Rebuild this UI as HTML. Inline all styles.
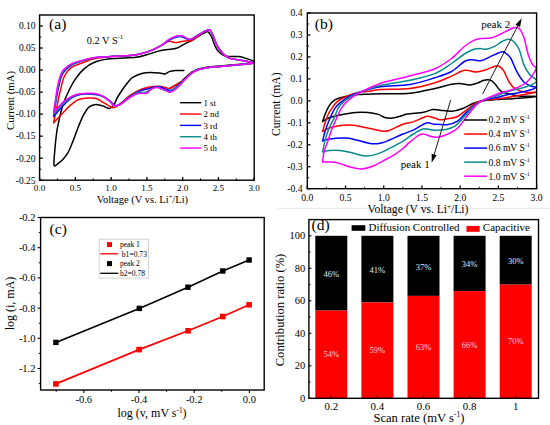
<!DOCTYPE html>
<html><head><meta charset="utf-8"><style>
html,body{margin:0;padding:0;background:#fff;}
svg{display:block;}
text{font-family:"Liberation Serif",serif;}
</style></head><body>
<svg width="550" height="425" viewBox="0 0 550 425">
<rect width="550" height="425" fill="#fff"/>
<line x1="278.00" y1="208.30" x2="550.00" y2="208.30" stroke="#e6e6e6" stroke-width="1.00"/>
<line x1="39.60" y1="180.20" x2="39.60" y2="177.00" stroke="#000" stroke-width="1.30"/>
<text x="39.6" y="190.8" font-size="9.20" text-anchor="middle" fill="#000" >0.0</text>
<line x1="57.48" y1="180.20" x2="57.48" y2="178.40" stroke="#000" stroke-width="1.00"/>
<line x1="75.37" y1="180.20" x2="75.37" y2="177.00" stroke="#000" stroke-width="1.30"/>
<text x="75.4" y="190.8" font-size="9.20" text-anchor="middle" fill="#000" >0.5</text>
<line x1="93.25" y1="180.20" x2="93.25" y2="178.40" stroke="#000" stroke-width="1.00"/>
<line x1="111.13" y1="180.20" x2="111.13" y2="177.00" stroke="#000" stroke-width="1.30"/>
<text x="111.1" y="190.8" font-size="9.20" text-anchor="middle" fill="#000" >1.0</text>
<line x1="129.02" y1="180.20" x2="129.02" y2="178.40" stroke="#000" stroke-width="1.00"/>
<line x1="146.90" y1="180.20" x2="146.90" y2="177.00" stroke="#000" stroke-width="1.30"/>
<text x="146.9" y="190.8" font-size="9.20" text-anchor="middle" fill="#000" >1.5</text>
<line x1="164.78" y1="180.20" x2="164.78" y2="178.40" stroke="#000" stroke-width="1.00"/>
<line x1="182.67" y1="180.20" x2="182.67" y2="177.00" stroke="#000" stroke-width="1.30"/>
<text x="182.7" y="190.8" font-size="9.20" text-anchor="middle" fill="#000" >2.0</text>
<line x1="200.55" y1="180.20" x2="200.55" y2="178.40" stroke="#000" stroke-width="1.00"/>
<line x1="218.43" y1="180.20" x2="218.43" y2="177.00" stroke="#000" stroke-width="1.30"/>
<text x="218.4" y="190.8" font-size="9.20" text-anchor="middle" fill="#000" >2.5</text>
<line x1="236.32" y1="180.20" x2="236.32" y2="178.40" stroke="#000" stroke-width="1.00"/>
<line x1="254.20" y1="180.20" x2="254.20" y2="177.00" stroke="#000" stroke-width="1.30"/>
<text x="254.2" y="190.8" font-size="9.20" text-anchor="middle" fill="#000" >3.0</text>
<line x1="39.60" y1="26.01" x2="42.80" y2="26.01" stroke="#000" stroke-width="1.30"/>
<text x="35.6" y="29.3" font-size="9.50" text-anchor="end" fill="#000" >0.10</text>
<line x1="39.60" y1="48.04" x2="42.80" y2="48.04" stroke="#000" stroke-width="1.30"/>
<text x="35.6" y="51.3" font-size="9.50" text-anchor="end" fill="#000" >0.05</text>
<line x1="39.60" y1="70.07" x2="42.80" y2="70.07" stroke="#000" stroke-width="1.30"/>
<text x="35.6" y="73.4" font-size="9.50" text-anchor="end" fill="#000" >0.00</text>
<line x1="39.60" y1="92.09" x2="42.80" y2="92.09" stroke="#000" stroke-width="1.30"/>
<text x="35.6" y="95.4" font-size="9.50" text-anchor="end" fill="#000" >-0.05</text>
<line x1="39.60" y1="114.12" x2="42.80" y2="114.12" stroke="#000" stroke-width="1.30"/>
<text x="35.6" y="117.4" font-size="9.50" text-anchor="end" fill="#000" >-0.10</text>
<line x1="39.60" y1="136.15" x2="42.80" y2="136.15" stroke="#000" stroke-width="1.30"/>
<text x="35.6" y="139.4" font-size="9.50" text-anchor="end" fill="#000" >-0.15</text>
<line x1="39.60" y1="158.17" x2="42.80" y2="158.17" stroke="#000" stroke-width="1.30"/>
<text x="35.6" y="161.5" font-size="9.50" text-anchor="end" fill="#000" >-0.20</text>
<line x1="39.60" y1="180.20" x2="42.80" y2="180.20" stroke="#000" stroke-width="1.30"/>
<text x="35.6" y="183.5" font-size="9.50" text-anchor="end" fill="#000" >-0.25</text>
<line x1="39.60" y1="37.03" x2="41.40" y2="37.03" stroke="#000" stroke-width="1.00"/>
<line x1="39.60" y1="59.05" x2="41.40" y2="59.05" stroke="#000" stroke-width="1.00"/>
<line x1="39.60" y1="81.08" x2="41.40" y2="81.08" stroke="#000" stroke-width="1.00"/>
<line x1="39.60" y1="103.11" x2="41.40" y2="103.11" stroke="#000" stroke-width="1.00"/>
<line x1="39.60" y1="125.13" x2="41.40" y2="125.13" stroke="#000" stroke-width="1.00"/>
<line x1="39.60" y1="147.16" x2="41.40" y2="147.16" stroke="#000" stroke-width="1.00"/>
<line x1="39.60" y1="169.19" x2="41.40" y2="169.19" stroke="#000" stroke-width="1.00"/>
<text x="142.4" y="202.9" font-size="10.50" text-anchor="middle" fill="#000" >Voltage (V vs. Li<tspan font-size="6.5" dy="-4">+</tspan><tspan dy="4">/Li)</tspan></text>
<text transform="translate(14.0,100.5) rotate(-90)" font-size="10.8" text-anchor="middle">Current (mA)</text>
<text x="49.1" y="28.8" font-size="15.50" text-anchor="start" fill="#000" >(a)</text>
<text x="86.8" y="43.6" font-size="10.30" text-anchor="start" fill="#000" >0.2 V S<tspan font-size="6.5" dy="-4.3">-1</tspan></text>
<path d="M183.9 70.4 C182.5 70.4 177.9 70.4 175.5 70.6 C173.1 70.8 171.0 71.0 169.3 71.6 C167.6 72.1 166.5 73.6 165.1 73.9 C163.7 74.2 163.3 73.4 160.9 73.2 C158.5 73.0 153.7 72.5 150.5 72.5 C147.3 72.5 144.8 72.7 141.8 73.5 C138.8 74.3 134.7 76.2 132.7 77.3 C130.7 78.4 131.3 78.3 129.9 80.0 C128.5 81.7 126.0 84.6 124.1 87.3 C122.2 90.0 119.8 93.6 118.3 96.0 C116.8 98.4 116.1 100.3 115.4 101.8 C114.7 103.2 114.9 103.6 113.9 104.7 C112.9 105.8 111.2 108.2 109.5 108.4 C107.8 108.7 105.9 106.9 103.7 106.2 C101.5 105.5 98.4 104.5 96.4 104.4 C94.5 104.3 93.4 104.9 92.0 105.5 C90.6 106.1 89.3 106.4 87.8 108.2 C86.3 110.0 84.4 113.1 82.8 116.4 C81.2 119.7 79.5 123.9 77.9 128.0 C76.3 132.1 74.7 137.0 73.0 141.1 C71.3 145.2 69.7 149.6 68.0 152.6 C66.3 155.6 64.7 157.4 63.1 159.2 C61.5 161.0 59.7 162.3 58.2 163.3 C56.7 164.3 54.5 167.4 54.0 165.1 C53.5 162.8 54.5 154.7 54.9 149.3 C55.3 144.0 56.0 137.6 56.6 133.0 C57.2 128.4 58.0 125.2 58.8 121.5 C59.6 117.8 60.3 114.0 61.3 110.5 C62.2 107.0 63.3 103.7 64.5 100.5 C65.7 97.3 66.8 95.0 68.5 91.5 C70.2 88.0 72.5 83.4 75.0 79.7 C77.5 76.0 80.5 72.0 83.8 69.1 C87.1 66.1 90.6 63.7 95.0 62.0 C99.4 60.3 103.2 59.6 110.0 58.8 C116.8 58.0 129.8 58.0 136.0 57.3 C142.2 56.6 143.2 55.6 147.3 54.5 C151.5 53.4 156.2 51.5 160.9 50.5 C165.6 49.5 171.7 49.5 175.5 48.5 C179.3 47.5 181.1 45.7 183.9 44.3 C186.7 42.9 190.0 41.4 192.3 40.1 C194.7 38.8 196.0 37.7 198.0 36.5 C200.0 35.3 202.5 33.9 204.1 33.1 C205.7 32.3 206.3 30.9 207.5 31.5 C208.7 32.1 210.2 34.2 211.4 36.5 C212.6 38.8 213.5 42.6 214.6 45.0 C215.7 47.4 216.4 49.1 217.9 50.8 C219.4 52.5 221.4 54.4 223.4 55.4 C225.4 56.4 227.4 56.3 229.9 56.5 C232.4 56.7 236.1 56.3 238.6 56.6 C241.1 56.9 242.6 57.3 245.2 58.1 C247.8 58.9 253.5 60.7 254.2 61.6 C254.9 62.5 251.8 62.9 249.5 63.3 C247.2 63.7 243.9 63.9 240.7 64.2 C237.5 64.5 233.9 64.8 230.5 65.1 C227.1 65.4 223.8 65.6 220.4 65.9 C217.0 66.2 213.7 66.3 210.2 66.8 C206.7 67.3 202.2 68.1 199.6 68.8 C197.0 69.5 195.9 70.1 194.5 70.8 C193.1 71.5 192.1 71.9 190.9 72.8 C189.7 73.7 188.5 74.9 187.3 76.0 C186.1 77.1 184.6 78.3 183.6 79.3 C182.6 80.3 183.4 80.5 181.1 82.0 C178.8 83.5 171.8 87.2 170.0 88.2" fill="none" stroke="#000" stroke-width="1.50" stroke-linejoin="round" stroke-linecap="round" />
<path d="M53.6 123.0 C53.9 121.4 54.5 118.4 55.6 113.2 C56.7 108.0 58.5 98.2 60.0 92.0 C61.5 85.8 62.5 80.3 64.4 76.2 C66.3 72.1 68.6 69.6 71.5 67.4 C74.4 65.2 78.1 64.5 82.0 63.0 C85.9 61.5 88.7 59.7 95.0 58.5 C101.3 57.3 114.2 56.5 120.0 56.0 C125.8 55.5 126.7 56.0 130.0 55.6 C133.3 55.2 136.5 54.7 140.0 53.9 C143.5 53.1 147.3 52.0 150.9 50.6 C154.5 49.2 158.9 46.7 161.8 45.2 C164.7 43.7 166.0 41.9 168.4 41.4 C170.8 40.9 173.8 42.5 176.0 42.5 C178.2 42.5 179.5 41.7 181.5 41.4 C183.5 41.1 186.2 41.0 188.0 40.8 C189.8 40.6 190.5 41.3 192.4 40.3 C194.3 39.3 197.5 36.6 199.7 35.0 C201.9 33.4 203.8 31.7 205.5 30.9 C207.2 30.1 208.6 29.3 209.9 30.2 C211.2 31.1 212.0 33.5 213.2 36.0 C214.3 38.5 215.5 42.4 216.8 45.0 C218.1 47.6 219.8 49.7 221.2 51.5 C222.6 53.3 223.9 54.7 225.5 55.9 C227.1 57.1 228.4 57.9 231.0 58.6 C233.6 59.3 237.4 59.6 240.8 60.3 C244.2 60.9 249.5 62.0 251.7 62.5 C253.9 63.0 254.3 62.8 254.2 63.0 C254.1 63.2 253.2 63.3 250.9 63.6 C248.7 63.9 244.1 64.3 240.7 64.6 C237.3 64.9 233.9 65.3 230.5 65.6 C227.1 65.9 223.8 66.1 220.4 66.4 C217.0 66.7 213.7 66.8 210.2 67.3 C206.7 67.8 202.2 68.6 199.6 69.3 C197.0 70.0 195.9 70.7 194.5 71.3 C193.1 71.9 192.1 72.2 190.9 73.0 C189.7 73.8 188.5 75.1 187.3 76.2 C186.1 77.3 184.6 78.5 183.6 79.5 C182.6 80.5 183.4 80.5 181.1 82.0 C178.8 83.5 172.6 87.3 170.0 88.2 C167.4 89.1 167.5 87.8 165.5 87.5 C163.5 87.2 161.2 86.2 158.2 86.2 C155.2 86.2 150.6 86.8 147.3 87.5 C144.0 88.2 141.2 89.2 138.2 90.7 C135.2 92.2 132.1 94.0 129.1 96.2 C126.1 98.4 122.5 102.0 120.0 103.9 C117.5 105.8 115.7 107.2 113.9 107.6 C112.2 108.0 111.4 107.2 109.5 106.2 C107.6 105.2 104.7 103.1 102.3 101.8 C99.9 100.5 98.7 98.7 95.0 98.2 C91.3 97.8 84.2 98.1 80.3 99.1 C76.4 100.1 74.5 102.1 71.5 104.4 C68.5 106.8 65.6 110.1 62.6 113.2 C59.6 116.3 55.1 121.4 53.6 123.0" fill="none" stroke="#ff0000" stroke-width="1.50" stroke-linejoin="round" stroke-linecap="round" />
<path d="M53.6 116.4 C53.9 114.2 54.7 108.1 55.6 103.0 C56.5 97.9 57.6 91.0 58.8 86.0 C60.0 81.0 60.9 76.5 63.0 73.0 C65.1 69.5 68.6 66.9 71.5 65.0 C74.4 63.1 76.4 62.7 80.3 61.5 C84.2 60.3 88.4 58.7 95.0 57.8 C101.6 56.9 114.2 56.4 120.0 56.0 C125.8 55.6 126.7 56.0 130.0 55.6 C133.3 55.2 136.5 54.7 140.0 53.9 C143.5 53.1 147.3 52.0 150.9 50.6 C154.5 49.2 158.9 46.9 161.8 45.2 C164.7 43.5 166.4 41.7 168.4 40.5 C170.4 39.3 171.8 38.6 173.8 38.0 C175.8 37.4 178.6 36.6 180.4 36.6 C182.2 36.6 183.4 37.5 184.7 38.0 C186.0 38.5 186.7 39.4 188.0 39.5 C189.3 39.6 190.4 39.5 192.4 38.6 C194.4 37.7 197.8 35.2 200.0 33.9 C202.2 32.6 203.8 31.5 205.5 30.9 C207.2 30.3 208.6 29.3 209.9 30.2 C211.2 31.1 212.0 33.5 213.2 36.0 C214.3 38.5 215.5 42.4 216.8 45.0 C218.1 47.6 219.8 49.7 221.2 51.5 C222.6 53.3 223.9 54.7 225.5 55.9 C227.1 57.1 228.4 57.9 231.0 58.6 C233.6 59.3 237.4 59.6 240.8 60.3 C244.2 60.9 249.5 62.0 251.7 62.5 C253.9 63.0 254.3 62.8 254.2 63.0 C254.1 63.2 253.2 63.3 250.9 63.6 C248.7 63.9 244.1 64.3 240.7 64.6 C237.3 64.9 233.9 65.3 230.5 65.6 C227.1 65.9 223.8 66.1 220.4 66.4 C217.0 66.7 213.7 66.8 210.2 67.3 C206.7 67.8 202.2 68.6 199.6 69.3 C197.0 70.0 195.9 70.6 194.5 71.3 C193.1 72.0 192.1 72.6 190.9 73.5 C189.7 74.4 188.5 75.7 187.3 76.8 C186.1 77.9 185.2 78.8 183.6 80.2 C182.0 81.7 179.9 83.9 178.0 85.5 C176.1 87.1 173.8 89.3 172.0 90.0 C170.2 90.7 169.6 90.4 167.3 89.8 C165.0 89.2 161.5 86.8 158.2 86.6 C154.9 86.4 150.6 88.1 147.3 88.9 C144.0 89.7 141.2 90.2 138.2 91.6 C135.2 92.9 132.1 94.9 129.1 97.0 C126.1 99.1 122.3 102.9 120.0 104.3 C117.7 105.7 117.2 106.1 115.4 105.5 C113.7 104.9 111.5 102.1 109.5 100.6 C107.5 99.1 106.1 97.7 103.7 96.7 C101.3 95.7 98.9 94.9 95.0 94.5 C91.1 94.1 84.2 93.9 80.3 94.5 C76.4 95.1 74.5 96.0 71.5 98.0 C68.5 100.0 65.6 103.1 62.6 106.2 C59.6 109.3 55.1 114.7 53.6 116.4" fill="none" stroke="#0000ff" stroke-width="1.50" stroke-linejoin="round" stroke-linecap="round" />
<path d="M53.6 114.6 C53.9 112.3 54.8 106.0 55.6 101.0 C56.4 96.0 57.3 89.4 58.5 84.6 C59.7 79.8 60.6 75.4 62.8 72.0 C65.0 68.6 68.6 66.2 71.5 64.4 C74.4 62.6 76.4 62.3 80.3 61.2 C84.2 60.1 88.4 58.6 95.0 57.7 C101.6 56.8 114.2 56.4 120.0 56.0 C125.8 55.6 126.7 56.0 130.0 55.6 C133.3 55.2 136.5 54.7 140.0 53.9 C143.5 53.1 147.3 52.0 150.9 50.6 C154.5 49.2 158.9 46.9 161.8 45.2 C164.7 43.5 166.4 41.4 168.4 40.1 C170.4 38.8 171.8 38.1 173.8 37.4 C175.8 36.7 178.6 36.0 180.4 36.0 C182.2 36.0 183.4 36.9 184.7 37.4 C186.0 37.9 186.7 39.0 188.0 39.2 C189.3 39.4 190.4 39.5 192.4 38.6 C194.4 37.7 197.8 35.2 200.0 33.9 C202.2 32.6 203.8 31.5 205.5 30.9 C207.2 30.3 208.6 29.3 209.9 30.2 C211.2 31.1 212.0 33.5 213.2 36.0 C214.3 38.5 215.5 42.4 216.8 45.0 C218.1 47.6 219.8 49.7 221.2 51.5 C222.6 53.3 223.9 54.7 225.5 55.9 C227.1 57.1 228.4 57.9 231.0 58.6 C233.6 59.3 237.4 59.6 240.8 60.3 C244.2 60.9 249.5 62.0 251.7 62.5 C253.9 63.0 254.3 62.8 254.2 63.0 C254.1 63.2 253.2 63.3 250.9 63.6 C248.7 63.9 244.1 64.3 240.7 64.6 C237.3 64.9 233.9 65.3 230.5 65.6 C227.1 65.9 223.8 66.1 220.4 66.4 C217.0 66.7 213.7 66.8 210.2 67.3 C206.7 67.8 202.2 68.6 199.6 69.3 C197.0 70.0 195.9 70.5 194.5 71.3 C193.1 72.0 192.1 72.8 190.9 73.8 C189.7 74.8 188.5 76.1 187.3 77.2 C186.1 78.3 184.8 79.4 183.6 80.6 C182.4 81.8 182.3 82.7 180.0 84.5 C177.7 86.3 172.8 90.5 170.0 91.3 C167.2 92.1 165.3 90.2 163.0 89.5 C160.7 88.8 158.7 86.8 156.4 87.0 C154.1 87.2 151.0 89.6 149.0 90.5 C147.0 91.4 146.3 92.2 144.5 92.5 C142.7 92.8 140.8 91.7 138.2 92.5 C135.6 93.3 132.1 95.5 129.1 97.5 C126.1 99.5 122.5 103.2 120.0 104.5 C117.5 105.8 115.7 106.1 113.9 105.5 C112.2 104.9 111.4 102.4 109.5 100.9 C107.6 99.4 104.7 97.5 102.3 96.3 C99.9 95.1 98.7 94.4 95.0 94.0 C91.3 93.6 84.2 93.5 80.3 94.0 C76.4 94.5 74.5 95.5 71.5 97.2 C68.5 98.9 65.6 101.5 62.6 104.4 C59.6 107.3 55.1 112.9 53.6 114.6" fill="none" stroke="#078c8c" stroke-width="1.50" stroke-linejoin="round" stroke-linecap="round" />
<path d="M53.6 112.9 C53.9 110.6 54.8 104.0 55.6 99.1 C56.4 94.1 57.0 87.9 58.2 83.2 C59.4 78.5 60.4 74.2 62.6 71.0 C64.8 67.8 68.5 65.5 71.5 63.8 C74.5 62.1 76.4 62.0 80.3 61.0 C84.2 60.0 88.4 58.4 95.0 57.6 C101.6 56.8 114.2 56.3 120.0 56.0 C125.8 55.7 126.7 56.0 130.0 55.6 C133.3 55.2 136.5 54.7 140.0 53.9 C143.5 53.1 147.3 52.0 150.9 50.6 C154.5 49.2 158.9 47.0 161.8 45.2 C164.7 43.4 166.4 41.3 168.4 39.9 C170.4 38.5 171.8 37.7 173.8 37.0 C175.8 36.3 178.6 35.6 180.4 35.6 C182.2 35.6 183.4 36.4 184.7 37.0 C186.0 37.6 186.7 38.7 188.0 39.0 C189.3 39.3 190.4 39.5 192.4 38.6 C194.4 37.8 197.8 35.2 200.0 33.9 C202.2 32.6 203.8 31.5 205.5 30.9 C207.2 30.3 208.6 29.3 209.9 30.2 C211.2 31.1 212.0 33.5 213.2 36.0 C214.3 38.5 215.5 42.4 216.8 45.0 C218.1 47.6 219.8 49.7 221.2 51.5 C222.6 53.3 223.9 54.7 225.5 55.9 C227.1 57.1 228.4 57.9 231.0 58.6 C233.6 59.3 237.4 59.6 240.8 60.3 C244.2 60.9 249.5 62.0 251.7 62.5 C253.9 63.0 254.3 62.8 254.2 63.0 C254.1 63.2 253.2 63.3 250.9 63.6 C248.7 63.9 244.1 64.3 240.7 64.6 C237.3 64.9 233.9 65.3 230.5 65.6 C227.1 65.9 223.8 66.1 220.4 66.4 C217.0 66.7 213.7 66.8 210.2 67.3 C206.7 67.8 202.2 68.6 199.6 69.3 C197.0 70.0 195.9 70.5 194.5 71.3 C193.1 72.1 192.1 73.0 190.9 74.0 C189.7 75.0 188.5 76.3 187.3 77.5 C186.1 78.7 185.1 79.4 183.6 81.0 C182.1 82.6 180.3 85.2 178.2 87.0 C176.1 88.8 172.7 91.4 170.9 92.1 C169.1 92.8 168.8 91.7 167.3 91.2 C165.8 90.7 163.6 89.5 161.8 88.9 C160.0 88.3 158.2 87.4 156.4 87.5 C154.6 87.6 152.4 88.5 150.9 89.4 C149.4 90.3 148.4 92.3 147.3 93.0 C146.2 93.7 146.0 93.4 144.5 93.5 C143.0 93.6 140.8 92.8 138.2 93.5 C135.6 94.2 132.1 96.1 129.1 98.0 C126.1 99.9 122.5 103.5 120.0 104.8 C117.5 106.0 115.7 106.1 113.9 105.5 C112.2 104.9 111.4 102.7 109.5 101.1 C107.6 99.5 104.7 97.2 102.3 96.0 C99.9 94.8 98.7 94.0 95.0 93.6 C91.3 93.2 84.2 93.3 80.3 93.8 C76.4 94.3 74.5 95.0 71.5 96.5 C68.5 98.0 65.6 99.9 62.6 102.6 C59.6 105.3 55.1 111.2 53.6 112.9" fill="none" stroke="#ff00ff" stroke-width="1.50" stroke-linejoin="round" stroke-linecap="round" />
<line x1="179.90" y1="102.70" x2="201.30" y2="102.70" stroke="#000" stroke-width="1.40"/>
<text x="203.5" y="105.8" font-size="8.80" text-anchor="start" fill="#000" >1 st</text>
<line x1="179.90" y1="114.05" x2="201.30" y2="114.05" stroke="#ff0000" stroke-width="1.40"/>
<text x="203.5" y="117.1" font-size="8.80" text-anchor="start" fill="#000" >2 nd</text>
<line x1="179.90" y1="125.40" x2="201.30" y2="125.40" stroke="#0000ff" stroke-width="1.40"/>
<text x="203.5" y="128.5" font-size="8.80" text-anchor="start" fill="#000" >3 rd</text>
<line x1="179.90" y1="136.75" x2="201.30" y2="136.75" stroke="#078c8c" stroke-width="1.40"/>
<text x="203.5" y="139.8" font-size="8.80" text-anchor="start" fill="#000" >4 th</text>
<line x1="179.90" y1="148.10" x2="201.30" y2="148.10" stroke="#ff00ff" stroke-width="1.40"/>
<text x="203.5" y="151.2" font-size="8.80" text-anchor="start" fill="#000" >5 th</text>
<rect x="39.60" y="15.00" width="214.60" height="165.20" fill="none" stroke="#000" stroke-width="1.40"/>
<line x1="307.30" y1="188.70" x2="307.30" y2="185.50" stroke="#000" stroke-width="1.30"/>
<text x="307.3" y="201.4" font-size="9.60" text-anchor="middle" fill="#000" >0.0</text>
<line x1="326.41" y1="188.70" x2="326.41" y2="186.90" stroke="#000" stroke-width="1.00"/>
<line x1="345.52" y1="188.70" x2="345.52" y2="185.50" stroke="#000" stroke-width="1.30"/>
<text x="345.5" y="201.4" font-size="9.60" text-anchor="middle" fill="#000" >0.5</text>
<line x1="364.62" y1="188.70" x2="364.62" y2="186.90" stroke="#000" stroke-width="1.00"/>
<line x1="383.73" y1="188.70" x2="383.73" y2="185.50" stroke="#000" stroke-width="1.30"/>
<text x="383.7" y="201.4" font-size="9.60" text-anchor="middle" fill="#000" >1.0</text>
<line x1="402.84" y1="188.70" x2="402.84" y2="186.90" stroke="#000" stroke-width="1.00"/>
<line x1="421.95" y1="188.70" x2="421.95" y2="185.50" stroke="#000" stroke-width="1.30"/>
<text x="422.0" y="201.4" font-size="9.60" text-anchor="middle" fill="#000" >1.5</text>
<line x1="441.06" y1="188.70" x2="441.06" y2="186.90" stroke="#000" stroke-width="1.00"/>
<line x1="460.17" y1="188.70" x2="460.17" y2="185.50" stroke="#000" stroke-width="1.30"/>
<text x="460.2" y="201.4" font-size="9.60" text-anchor="middle" fill="#000" >2.0</text>
<line x1="479.28" y1="188.70" x2="479.28" y2="186.90" stroke="#000" stroke-width="1.00"/>
<line x1="498.38" y1="188.70" x2="498.38" y2="185.50" stroke="#000" stroke-width="1.30"/>
<text x="498.4" y="201.4" font-size="9.60" text-anchor="middle" fill="#000" >2.5</text>
<line x1="517.49" y1="188.70" x2="517.49" y2="186.90" stroke="#000" stroke-width="1.00"/>
<line x1="536.60" y1="188.70" x2="536.60" y2="185.50" stroke="#000" stroke-width="1.30"/>
<text x="536.6" y="201.4" font-size="9.60" text-anchor="middle" fill="#000" >3.0</text>
<line x1="307.30" y1="13.00" x2="310.50" y2="13.00" stroke="#000" stroke-width="1.30"/>
<text x="302.5" y="15.9" font-size="9.60" text-anchor="end" fill="#000" >0.4</text>
<line x1="307.30" y1="23.98" x2="309.10" y2="23.98" stroke="#000" stroke-width="1.00"/>
<line x1="307.30" y1="34.96" x2="310.50" y2="34.96" stroke="#000" stroke-width="1.30"/>
<text x="302.5" y="37.9" font-size="9.60" text-anchor="end" fill="#000" >0.3</text>
<line x1="307.30" y1="45.94" x2="309.10" y2="45.94" stroke="#000" stroke-width="1.00"/>
<line x1="307.30" y1="56.92" x2="310.50" y2="56.92" stroke="#000" stroke-width="1.30"/>
<text x="302.5" y="59.8" font-size="9.60" text-anchor="end" fill="#000" >0.2</text>
<line x1="307.30" y1="67.91" x2="309.10" y2="67.91" stroke="#000" stroke-width="1.00"/>
<line x1="307.30" y1="78.89" x2="310.50" y2="78.89" stroke="#000" stroke-width="1.30"/>
<text x="302.5" y="81.8" font-size="9.60" text-anchor="end" fill="#000" >0.1</text>
<line x1="307.30" y1="89.87" x2="309.10" y2="89.87" stroke="#000" stroke-width="1.00"/>
<line x1="307.30" y1="100.85" x2="310.50" y2="100.85" stroke="#000" stroke-width="1.30"/>
<text x="302.5" y="103.8" font-size="9.60" text-anchor="end" fill="#000" >0.0</text>
<line x1="307.30" y1="111.83" x2="309.10" y2="111.83" stroke="#000" stroke-width="1.00"/>
<line x1="307.30" y1="122.81" x2="310.50" y2="122.81" stroke="#000" stroke-width="1.30"/>
<text x="302.5" y="125.7" font-size="9.60" text-anchor="end" fill="#000" >-0.1</text>
<line x1="307.30" y1="133.79" x2="309.10" y2="133.79" stroke="#000" stroke-width="1.00"/>
<line x1="307.30" y1="144.78" x2="310.50" y2="144.78" stroke="#000" stroke-width="1.30"/>
<text x="302.5" y="147.7" font-size="9.60" text-anchor="end" fill="#000" >-0.2</text>
<line x1="307.30" y1="155.76" x2="309.10" y2="155.76" stroke="#000" stroke-width="1.00"/>
<line x1="307.30" y1="166.74" x2="310.50" y2="166.74" stroke="#000" stroke-width="1.30"/>
<text x="302.5" y="169.6" font-size="9.60" text-anchor="end" fill="#000" >-0.3</text>
<line x1="307.30" y1="177.72" x2="309.10" y2="177.72" stroke="#000" stroke-width="1.00"/>
<line x1="307.30" y1="188.70" x2="310.50" y2="188.70" stroke="#000" stroke-width="1.30"/>
<text x="302.5" y="191.6" font-size="9.60" text-anchor="end" fill="#000" >-0.4</text>
<text x="418.0" y="213.4" font-size="11.60" text-anchor="middle" fill="#000" >Voltage (V vs. Li<tspan font-size="7" dy="-4.3">+</tspan><tspan dy="4.3">/Li)</tspan></text>
<text transform="translate(280.0,104.2) rotate(-90)" font-size="11.6" text-anchor="middle">Current (mA)</text>
<text x="314.8" y="29.2" font-size="15.50" text-anchor="start" fill="#000" >(b)</text>
<path d="M322.6 121.6 C323.1 120.3 324.2 116.3 325.4 113.6 C326.6 110.8 328.0 107.4 329.6 105.1 C331.2 102.8 332.8 101.1 334.9 99.8 C337.0 98.5 338.4 98.1 342.3 97.2 C346.2 96.3 352.1 95.1 358.4 94.5 C364.7 93.9 371.4 94.0 380.0 93.8 C388.6 93.6 400.8 94.2 410.0 93.3 C419.2 92.4 428.1 90.0 435.0 88.5 C441.9 87.0 447.4 85.1 451.5 84.3 C455.6 83.5 456.6 83.4 459.7 83.5 C462.8 83.6 467.1 85.0 470.0 84.9 C472.9 84.8 475.1 83.8 477.3 83.1 C479.5 82.4 481.3 81.0 483.1 80.5 C484.9 80.0 486.8 79.7 488.2 79.8 C489.6 79.9 490.6 80.1 491.8 80.9 C493.0 81.7 494.3 83.1 495.5 84.5 C496.7 85.9 498.0 88.1 499.1 89.3 C500.2 90.5 500.7 91.1 502.0 91.8 C503.3 92.5 503.8 92.6 506.7 93.3 C509.6 94.0 514.5 95.4 519.4 95.9 C524.3 96.5 537.2 96.1 536.0 96.6 C534.8 97.1 518.5 98.2 512.3 98.7 C506.1 99.2 503.8 99.0 498.8 99.4 C493.8 99.8 486.7 100.3 482.4 101.0 C478.1 101.7 476.1 102.3 473.0 103.5 C469.9 104.7 467.0 106.9 463.5 108.2 C460.0 109.5 455.7 110.9 451.8 111.2 C447.9 111.5 443.2 110.5 440.0 110.2 C436.8 109.9 435.4 109.2 432.7 109.5 C430.0 109.8 427.8 111.5 423.6 112.3 C419.4 113.1 411.2 113.4 407.3 114.1 C403.4 114.8 402.7 115.6 400.0 116.3 C397.3 117.0 393.7 118.0 391.1 118.2 C388.6 118.4 386.8 118.1 384.7 117.5 C382.6 116.9 381.1 115.2 378.4 114.4 C375.6 113.6 372.0 112.8 368.2 112.5 C364.4 112.2 359.8 112.2 355.5 112.5 C351.2 112.8 346.9 113.6 342.7 114.4 C338.4 115.2 333.4 116.3 330.0 117.5 C326.6 118.7 323.8 120.9 322.6 121.6" fill="none" stroke="#000" stroke-width="1.50" stroke-linejoin="round" stroke-linecap="round" />
<path d="M322.6 131.5 C323.0 130.3 323.8 126.8 324.7 124.1 C325.6 121.3 326.7 117.6 327.9 115.0 C329.1 112.4 330.3 110.5 331.8 108.3 C333.3 106.1 334.9 103.8 337.0 101.9 C339.1 100.1 341.0 98.8 344.5 97.2 C348.0 95.6 354.0 93.5 358.0 92.5 C362.0 91.5 364.9 91.8 368.6 91.3 C372.3 90.8 373.1 90.0 380.0 89.5 C386.9 89.0 400.8 89.5 410.0 88.4 C419.2 87.3 428.1 84.8 435.0 82.7 C441.9 80.7 446.6 78.2 451.5 76.1 C456.4 74.0 460.6 71.0 464.7 70.3 C468.8 69.6 472.9 72.0 476.2 72.0 C479.5 72.0 481.3 71.3 484.4 70.3 C487.5 69.3 492.5 66.8 495.0 66.2 C497.5 65.6 498.0 65.7 499.5 66.5 C501.0 67.3 502.2 68.5 503.9 71.2 C505.6 73.9 507.6 79.6 509.5 82.5 C511.4 85.4 512.4 87.2 515.2 88.8 C518.0 90.4 522.9 91.7 526.4 92.3 C529.9 92.9 538.4 91.6 536.0 92.3 C533.6 93.0 518.5 95.5 512.3 96.6 C506.1 97.7 503.8 98.1 498.8 98.8 C493.8 99.5 486.3 99.8 482.4 100.6 C478.5 101.4 477.9 102.0 475.3 103.5 C472.8 105.0 470.1 107.2 467.1 109.4 C464.2 111.6 460.9 114.9 457.6 116.5 C454.3 118.1 450.0 118.3 447.1 118.8 C444.2 119.3 442.2 119.9 440.0 119.7 C437.8 119.5 436.3 118.3 434.0 117.8 C431.7 117.3 429.8 115.8 426.3 116.5 C422.9 117.2 417.2 120.6 413.3 121.9 C409.4 123.2 406.9 122.8 403.0 124.2 C399.1 125.6 393.3 128.9 390.0 130.1 C386.7 131.3 386.6 131.6 383.0 131.3 C379.4 131.0 374.1 129.2 368.6 128.2 C363.1 127.2 356.2 125.3 350.1 125.1 C344.0 124.9 336.3 126.1 331.7 127.2 C327.1 128.3 324.1 130.8 322.6 131.5" fill="none" stroke="#ff0000" stroke-width="1.50" stroke-linejoin="round" stroke-linecap="round" />
<path d="M322.6 141.0 C323.1 139.2 324.2 134.0 325.3 130.5 C326.4 127.0 327.6 123.9 329.2 120.2 C330.8 116.5 332.9 111.3 334.9 108.3 C336.9 105.2 339.0 103.9 341.3 101.9 C343.6 100.0 345.9 98.1 348.7 96.6 C351.5 95.0 352.8 94.2 358.0 92.6 C363.2 90.9 371.3 88.0 380.0 86.7 C388.7 85.4 400.8 86.0 410.0 84.5 C419.2 83.0 428.1 79.9 435.0 77.7 C441.9 75.5 446.6 74.2 451.5 71.5 C456.4 68.8 461.0 63.5 464.4 61.5 C467.8 59.5 469.2 59.9 472.0 59.7 C474.8 59.6 478.3 61.2 481.4 60.6 C484.5 60.0 487.4 57.9 490.8 56.4 C494.2 54.9 499.6 52.3 502.1 51.8 C504.6 51.3 504.5 52.4 506.0 53.5 C507.5 54.6 509.1 55.5 510.9 58.5 C512.7 61.5 514.5 67.3 516.6 71.2 C518.7 75.1 521.2 79.3 523.6 81.8 C526.0 84.3 528.6 85.1 530.7 86.0 C532.8 86.9 536.7 86.6 536.0 87.4 C535.3 88.2 531.5 89.6 526.4 90.9 C521.3 92.2 509.9 94.2 505.3 95.2 C500.7 96.2 502.6 96.1 498.8 97.0 C495.0 97.9 486.3 99.3 482.4 100.6 C478.5 101.9 478.1 102.7 475.3 104.7 C472.6 106.8 468.8 110.2 465.9 112.9 C462.9 115.7 460.7 119.2 457.6 121.2 C454.5 123.2 451.0 124.2 447.1 124.7 C443.2 125.2 437.5 124.5 434.0 124.2 C430.5 123.9 429.8 122.0 426.3 123.0 C422.9 124.0 417.2 128.3 413.3 130.1 C409.4 131.9 406.9 132.4 403.0 134.0 C399.1 135.6 393.3 138.4 390.0 139.8 C386.7 141.2 386.1 141.8 383.0 142.5 C379.9 143.2 376.0 144.2 371.6 143.8 C367.2 143.4 360.7 140.9 356.4 140.0 C352.1 139.1 350.5 138.3 346.0 138.1 C341.5 137.9 333.5 138.4 329.6 138.9 C325.7 139.4 323.8 140.7 322.6 141.0" fill="none" stroke="#0000ff" stroke-width="1.50" stroke-linejoin="round" stroke-linecap="round" />
<path d="M322.6 151.9 C323.1 149.8 324.2 143.6 325.3 139.6 C326.4 135.6 327.7 131.6 329.2 127.9 C330.7 124.2 332.9 120.9 334.4 117.6 C335.9 114.3 336.4 111.1 338.1 108.3 C339.8 105.5 342.2 102.9 344.5 100.9 C346.8 98.9 349.6 97.4 351.9 96.1 C354.2 94.8 353.7 94.7 358.4 92.9 C363.1 91.2 371.4 87.7 380.0 85.6 C388.6 83.5 400.8 82.2 410.0 80.2 C419.2 78.2 428.1 76.4 435.0 73.6 C441.9 70.8 446.6 66.8 451.5 63.5 C456.4 60.2 460.7 56.4 464.4 54.0 C468.1 51.6 471.1 50.2 473.8 49.3 C476.5 48.4 478.3 48.4 480.4 48.4 C482.4 48.4 483.7 49.7 486.1 49.3 C488.5 48.9 492.4 47.5 495.0 46.2 C497.6 44.9 499.7 42.6 502.0 41.5 C504.3 40.4 506.9 39.1 509.0 39.3 C511.1 39.5 513.0 40.7 514.7 42.5 C516.4 44.3 517.9 46.4 519.4 50.0 C520.9 53.6 522.0 60.1 523.6 64.1 C525.2 68.1 527.2 71.4 529.3 74.0 C531.4 76.6 535.0 78.2 536.0 79.6 C537.0 81.0 537.2 81.3 535.6 82.5 C534.0 83.7 531.4 85.1 526.4 86.7 C521.4 88.3 509.9 90.9 505.3 92.3 C500.7 93.7 502.6 93.6 498.8 95.0 C495.0 96.4 486.7 98.6 482.4 100.6 C478.1 102.6 476.0 104.3 472.9 107.1 C469.8 109.9 466.4 114.5 463.5 117.6 C460.6 120.7 458.2 123.9 455.3 125.9 C452.4 127.9 449.7 128.7 445.9 129.4 C442.1 130.1 436.4 130.2 432.7 130.1 C429.0 130.0 426.9 128.2 423.7 128.8 C420.5 129.5 416.8 131.9 413.3 134.0 C409.9 136.1 406.9 138.7 403.0 141.1 C399.1 143.5 394.1 146.1 390.0 148.2 C385.9 150.3 382.2 152.3 378.2 153.6 C374.2 154.9 370.8 156.3 366.2 156.1 C361.6 155.9 355.3 153.4 350.9 152.5 C346.5 151.6 343.6 150.8 340.0 150.4 C336.4 150.1 332.5 150.2 329.6 150.4 C326.7 150.6 323.8 151.6 322.6 151.8" fill="none" stroke="#078c8c" stroke-width="1.50" stroke-linejoin="round" stroke-linecap="round" />
<path d="M322.6 162.2 C322.8 160.5 323.1 155.6 324.0 152.0 C324.9 148.4 326.6 144.7 327.9 140.9 C329.2 137.1 330.5 132.6 331.8 129.2 C333.1 125.7 334.1 123.7 335.7 120.2 C337.3 116.7 339.3 111.5 341.3 108.3 C343.3 105.1 344.8 103.4 347.6 100.9 C350.4 98.4 352.6 96.4 358.0 93.5 C363.4 90.6 373.8 85.8 380.0 83.5 C386.2 81.2 390.0 80.9 395.0 79.6 C400.0 78.3 403.3 77.6 410.0 75.8 C416.7 74.0 428.1 71.6 435.0 68.7 C441.9 65.8 446.6 62.2 451.5 58.5 C456.4 54.8 460.7 49.5 464.4 46.5 C468.1 43.5 471.0 41.7 473.8 40.4 C476.6 39.1 478.6 38.9 481.4 38.5 C484.2 38.1 488.1 38.5 490.8 38.0 C493.5 37.5 495.0 36.6 497.4 35.6 C499.8 34.6 502.3 33.2 505.0 31.9 C507.7 30.6 511.4 28.5 513.6 27.8 C515.8 27.1 516.8 27.3 518.0 27.8 C519.2 28.3 520.0 29.2 521.0 31.0 C522.0 32.8 523.0 34.4 524.3 38.5 C525.5 42.6 527.1 51.2 528.5 55.6 C529.9 60.0 531.5 62.8 532.8 65.0 C534.0 67.2 537.1 66.1 536.0 69.0 C534.9 71.9 530.4 79.1 526.4 82.5 C522.4 85.9 516.9 87.7 512.3 89.5 C507.7 91.3 503.8 91.7 498.8 93.5 C493.8 95.3 486.3 98.5 482.4 100.6 C478.5 102.7 478.1 103.1 475.3 105.9 C472.6 108.7 468.6 114.1 465.9 117.6 C463.1 121.1 461.0 124.8 458.8 127.1 C456.6 129.4 456.0 129.9 452.9 131.5 C449.8 133.1 443.6 136.0 440.0 136.8 C436.4 137.7 434.2 137.1 431.5 136.6 C428.8 136.1 425.9 134.2 423.7 134.0 C421.5 133.8 420.9 133.9 418.5 135.3 C416.1 136.7 412.0 140.2 409.4 142.4 C406.8 144.6 405.5 146.5 403.0 148.5 C400.5 150.5 397.7 152.6 394.5 154.6 C391.3 156.6 387.2 158.7 383.6 160.6 C380.0 162.5 376.3 164.8 372.7 166.2 C369.1 167.6 365.4 168.7 361.8 168.9 C358.2 169.1 354.5 168.2 350.9 167.3 C347.3 166.4 343.2 164.4 340.0 163.5 C336.8 162.6 334.6 162.3 331.7 162.1 C328.8 161.9 324.1 162.1 322.6 162.1" fill="none" stroke="#ff00ff" stroke-width="1.50" stroke-linejoin="round" stroke-linecap="round" />
<line x1="482.70" y1="93.90" x2="518.26" y2="24.97" stroke="#000" stroke-width="0.90"/>
<path d="M521.7 18.3 L520.1 27.0 L515.5 24.7 Z" fill="#000"/>
<line x1="450.70" y1="100.10" x2="433.88" y2="155.42" stroke="#000" stroke-width="0.90"/>
<path d="M431.7 162.6 L431.7 153.7 L436.7 155.2 Z" fill="#000"/>
<text x="481.2" y="27.6" font-size="11.00" text-anchor="start" fill="#000" >peak 2</text>
<text x="400.7" y="167.9" font-size="11.00" text-anchor="start" fill="#000" >peak 1</text>
<line x1="464.20" y1="120.00" x2="487.10" y2="120.00" stroke="#000" stroke-width="1.50"/>
<text x="488.5" y="123.3" font-size="9.60" text-anchor="start" fill="#000" >0.2 mV S<tspan font-size="6" dy="-4">-1</tspan></text>
<line x1="464.20" y1="134.05" x2="487.10" y2="134.05" stroke="#ff0000" stroke-width="1.50"/>
<text x="488.5" y="137.4" font-size="9.60" text-anchor="start" fill="#000" >0.4 mV S<tspan font-size="6" dy="-4">-1</tspan></text>
<line x1="464.20" y1="148.10" x2="487.10" y2="148.10" stroke="#0000ff" stroke-width="1.50"/>
<text x="488.5" y="151.4" font-size="9.60" text-anchor="start" fill="#000" >0.6 mV S<tspan font-size="6" dy="-4">-1</tspan></text>
<line x1="464.20" y1="162.15" x2="487.10" y2="162.15" stroke="#078c8c" stroke-width="1.50"/>
<text x="488.5" y="165.5" font-size="9.60" text-anchor="start" fill="#000" >0.8 mV S<tspan font-size="6" dy="-4">-1</tspan></text>
<line x1="464.20" y1="176.20" x2="487.10" y2="176.20" stroke="#ff00ff" stroke-width="1.50"/>
<text x="488.5" y="179.5" font-size="9.60" text-anchor="start" fill="#000" >1.0 mV S<tspan font-size="6" dy="-4">-1</tspan></text>
<rect x="307.30" y="13.00" width="229.30" height="175.70" fill="none" stroke="#000" stroke-width="1.40"/>
<line x1="83.80" y1="390.00" x2="83.80" y2="393.00" stroke="#000" stroke-width="1.10"/>
<text x="83.8" y="403.3" font-size="10.50" text-anchor="middle" fill="#000" >-0.6</text>
<line x1="139.00" y1="390.00" x2="139.00" y2="393.00" stroke="#000" stroke-width="1.10"/>
<text x="139.0" y="403.3" font-size="10.50" text-anchor="middle" fill="#000" >-0.4</text>
<line x1="194.20" y1="390.00" x2="194.20" y2="393.00" stroke="#000" stroke-width="1.10"/>
<text x="194.2" y="403.3" font-size="10.50" text-anchor="middle" fill="#000" >-0.2</text>
<line x1="249.40" y1="390.00" x2="249.40" y2="393.00" stroke="#000" stroke-width="1.10"/>
<text x="249.4" y="403.3" font-size="10.50" text-anchor="middle" fill="#000" >0.0</text>
<line x1="56.20" y1="390.00" x2="56.20" y2="391.80" stroke="#000" stroke-width="1.00"/>
<line x1="111.40" y1="390.00" x2="111.40" y2="391.80" stroke="#000" stroke-width="1.00"/>
<line x1="166.60" y1="390.00" x2="166.60" y2="391.80" stroke="#000" stroke-width="1.00"/>
<line x1="221.80" y1="390.00" x2="221.80" y2="391.80" stroke="#000" stroke-width="1.00"/>
<line x1="40.60" y1="217.50" x2="37.60" y2="217.50" stroke="#000" stroke-width="1.10"/>
<text x="35.5" y="221.0" font-size="10.50" text-anchor="end" fill="#000" >-0.2</text>
<line x1="40.60" y1="247.70" x2="37.60" y2="247.70" stroke="#000" stroke-width="1.10"/>
<text x="35.5" y="251.2" font-size="10.50" text-anchor="end" fill="#000" >-0.4</text>
<line x1="40.60" y1="277.90" x2="37.60" y2="277.90" stroke="#000" stroke-width="1.10"/>
<text x="35.5" y="281.4" font-size="10.50" text-anchor="end" fill="#000" >-0.6</text>
<line x1="40.60" y1="308.10" x2="37.60" y2="308.10" stroke="#000" stroke-width="1.10"/>
<text x="35.5" y="311.6" font-size="10.50" text-anchor="end" fill="#000" >-0.8</text>
<line x1="40.60" y1="338.30" x2="37.60" y2="338.30" stroke="#000" stroke-width="1.10"/>
<text x="35.5" y="341.8" font-size="10.50" text-anchor="end" fill="#000" >-1.0</text>
<line x1="40.60" y1="368.50" x2="37.60" y2="368.50" stroke="#000" stroke-width="1.10"/>
<text x="35.5" y="372.0" font-size="10.50" text-anchor="end" fill="#000" >-1.2</text>
<line x1="40.60" y1="232.60" x2="38.80" y2="232.60" stroke="#000" stroke-width="1.00"/>
<line x1="40.60" y1="262.80" x2="38.80" y2="262.80" stroke="#000" stroke-width="1.00"/>
<line x1="40.60" y1="293.00" x2="38.80" y2="293.00" stroke="#000" stroke-width="1.00"/>
<line x1="40.60" y1="323.20" x2="38.80" y2="323.20" stroke="#000" stroke-width="1.00"/>
<line x1="40.60" y1="353.40" x2="38.80" y2="353.40" stroke="#000" stroke-width="1.00"/>
<line x1="40.60" y1="383.60" x2="38.80" y2="383.60" stroke="#000" stroke-width="1.00"/>
<text x="117.5" y="417.2" font-size="12.00" text-anchor="start" fill="#000" >log (v, mV s<tspan font-size="7.2" dy="-4.7">-1</tspan><tspan dy="4.7">)</tspan></text>
<text transform="translate(14.0,303.5) rotate(-90)" font-size="12.0" text-anchor="middle">log (i, mA)</text>
<text x="49.6" y="233.6" font-size="15.50" text-anchor="start" fill="#000" >(c)</text>
<path d="M55.9 342.4 L139.3 308.4 L188.0 287.2 L222.8 271.0 L249.1 260.0" fill="none" stroke="#000" stroke-width="1.6"/>
<path d="M55.9 383.9 L139.1 349.6 L188.1 330.8 L222.8 316.5 L249.1 304.8" fill="none" stroke="#ff0000" stroke-width="1.7"/>
<rect x="53.2" y="339.7" width="5.4" height="5.4" fill="#000"/>
<rect x="136.6" y="305.7" width="5.4" height="5.4" fill="#000"/>
<rect x="185.3" y="284.5" width="5.4" height="5.4" fill="#000"/>
<rect x="220.1" y="268.3" width="5.4" height="5.4" fill="#000"/>
<rect x="246.4" y="257.3" width="5.4" height="5.4" fill="#000"/>
<rect x="53.1" y="381.1" width="5.6" height="5.6" fill="#ff0000"/>
<rect x="136.3" y="346.8" width="5.6" height="5.6" fill="#ff0000"/>
<rect x="185.3" y="328.0" width="5.6" height="5.6" fill="#ff0000"/>
<rect x="220.0" y="313.7" width="5.6" height="5.6" fill="#ff0000"/>
<rect x="246.3" y="302.0" width="5.6" height="5.6" fill="#ff0000"/>
<rect x="99.2" y="239.2" width="49.3" height="38.9" fill="#fff" stroke="#c8c8c8" stroke-width="0.8"/>
<rect x="107" y="242.1" width="5" height="5" fill="#ff0000"/>
<text x="119.9" y="247.4" font-size="7.60" text-anchor="start" fill="#000" >peak 1</text>
<line x1="100.20" y1="253.80" x2="118.30" y2="253.80" stroke="#ff0000" stroke-width="1.30"/>
<text x="121.8" y="256.9" font-size="7.60" text-anchor="start" fill="#000" >b1=0.73</text>
<rect x="107" y="261.1" width="5" height="5" fill="#000"/>
<text x="119.9" y="266.4" font-size="7.60" text-anchor="start" fill="#000" >peak 2</text>
<line x1="100.20" y1="273.30" x2="118.30" y2="273.30" stroke="#000" stroke-width="1.30"/>
<text x="119.9" y="276.0" font-size="7.60" text-anchor="start" fill="#000" >b2=0.78</text>
<rect x="40.60" y="217.50" width="223.60" height="172.50" fill="none" stroke="#000" stroke-width="1.40"/>
<rect x="315.3" y="235.8" width="32.0" height="74.8" fill="#000"/>
<rect x="315.3" y="310.6" width="32.0" height="87.8" fill="#ff0000"/>
<text x="331.3" y="276.8" font-size="8.50" text-anchor="middle" fill="#e8e8e8" >46%</text>
<text x="331.3" y="357.4" font-size="8.50" text-anchor="middle" fill="#f4d0d0" >54%</text>
<line x1="331.30" y1="398.30" x2="331.30" y2="395.50" stroke="#000" stroke-width="1.30"/>
<text x="331.3" y="410.4" font-size="10.90" text-anchor="middle" fill="#000" >0.2</text>
<rect x="361.4" y="235.8" width="32.0" height="66.6" fill="#000"/>
<rect x="361.4" y="302.4" width="32.0" height="95.9" fill="#ff0000"/>
<text x="377.4" y="272.7" font-size="8.50" text-anchor="middle" fill="#e8e8e8" >41%</text>
<text x="377.4" y="353.4" font-size="8.50" text-anchor="middle" fill="#f4d0d0" >59%</text>
<line x1="377.40" y1="398.30" x2="377.40" y2="395.50" stroke="#000" stroke-width="1.30"/>
<text x="377.4" y="410.4" font-size="10.90" text-anchor="middle" fill="#000" >0.4</text>
<rect x="407.5" y="235.8" width="32.0" height="60.1" fill="#000"/>
<rect x="407.5" y="295.9" width="32.0" height="102.4" fill="#ff0000"/>
<text x="423.5" y="269.5" font-size="8.50" text-anchor="middle" fill="#e8e8e8" >37%</text>
<text x="423.5" y="350.1" font-size="8.50" text-anchor="middle" fill="#f4d0d0" >63%</text>
<line x1="423.50" y1="398.30" x2="423.50" y2="395.50" stroke="#000" stroke-width="1.30"/>
<text x="423.5" y="410.4" font-size="10.90" text-anchor="middle" fill="#000" >0.6</text>
<rect x="453.6" y="235.8" width="32.0" height="55.2" fill="#000"/>
<rect x="453.6" y="291.1" width="32.0" height="107.2" fill="#ff0000"/>
<text x="469.6" y="267.0" font-size="8.50" text-anchor="middle" fill="#e8e8e8" >34%</text>
<text x="469.6" y="347.7" font-size="8.50" text-anchor="middle" fill="#f4d0d0" >66%</text>
<line x1="469.60" y1="398.30" x2="469.60" y2="395.50" stroke="#000" stroke-width="1.30"/>
<text x="469.6" y="410.4" font-size="10.90" text-anchor="middle" fill="#000" >0.8</text>
<rect x="499.7" y="235.8" width="32.0" height="48.8" fill="#000"/>
<rect x="499.7" y="284.6" width="32.0" height="113.8" fill="#ff0000"/>
<text x="515.7" y="263.8" font-size="8.50" text-anchor="middle" fill="#e8e8e8" >30%</text>
<text x="515.7" y="344.4" font-size="8.50" text-anchor="middle" fill="#f4d0d0" >70%</text>
<line x1="515.70" y1="398.30" x2="515.70" y2="395.50" stroke="#000" stroke-width="1.30"/>
<text x="515.7" y="410.4" font-size="10.90" text-anchor="middle" fill="#000" >1</text>
<line x1="308.90" y1="398.30" x2="311.40" y2="398.30" stroke="#000" stroke-width="1.10"/>
<text x="305.2" y="401.8" font-size="10.50" text-anchor="end" fill="#000" >0</text>
<line x1="308.90" y1="382.05" x2="310.50" y2="382.05" stroke="#000" stroke-width="1.00"/>
<line x1="308.90" y1="365.80" x2="311.40" y2="365.80" stroke="#000" stroke-width="1.10"/>
<text x="305.2" y="369.3" font-size="10.50" text-anchor="end" fill="#000" >20</text>
<line x1="308.90" y1="349.55" x2="310.50" y2="349.55" stroke="#000" stroke-width="1.00"/>
<line x1="308.90" y1="333.30" x2="311.40" y2="333.30" stroke="#000" stroke-width="1.10"/>
<text x="305.2" y="336.8" font-size="10.50" text-anchor="end" fill="#000" >40</text>
<line x1="308.90" y1="317.05" x2="310.50" y2="317.05" stroke="#000" stroke-width="1.00"/>
<line x1="308.90" y1="300.80" x2="311.40" y2="300.80" stroke="#000" stroke-width="1.10"/>
<text x="305.2" y="304.3" font-size="10.50" text-anchor="end" fill="#000" >60</text>
<line x1="308.90" y1="284.55" x2="310.50" y2="284.55" stroke="#000" stroke-width="1.00"/>
<line x1="308.90" y1="268.30" x2="311.40" y2="268.30" stroke="#000" stroke-width="1.10"/>
<text x="305.2" y="271.8" font-size="10.50" text-anchor="end" fill="#000" >80</text>
<line x1="308.90" y1="252.05" x2="310.50" y2="252.05" stroke="#000" stroke-width="1.00"/>
<line x1="308.90" y1="235.80" x2="311.40" y2="235.80" stroke="#000" stroke-width="1.10"/>
<text x="305.2" y="239.3" font-size="10.50" text-anchor="end" fill="#000" >100</text>
<text x="418.9" y="421.8" font-size="12.60" text-anchor="middle" fill="#000" >Scan rate (mV s<tspan font-size="7.5" dy="-4.8">-1</tspan><tspan dy="4.8">)</tspan></text>
<text transform="translate(284.0,310.0) rotate(-90)" font-size="12.6" text-anchor="middle">Contribution ratio (%)</text>
<text x="311.5" y="229.8" font-size="15.50" text-anchor="start" fill="#000" >(d)</text>
<rect x="351.6" y="225.2" width="13.7" height="5.6" fill="#000"/>
<text x="368.6" y="230.8" font-size="10.90" text-anchor="start" fill="#000" >Diffusion Controlled</text>
<rect x="466.5" y="225.9" width="13.2" height="5.9" fill="#ff0000"/>
<text x="482.8" y="231.0" font-size="11.00" text-anchor="start" fill="#000" >Capacitive</text>
<rect x="308.90" y="219.60" width="229.60" height="178.70" fill="none" stroke="#000" stroke-width="1.40"/>
</svg></body></html>
